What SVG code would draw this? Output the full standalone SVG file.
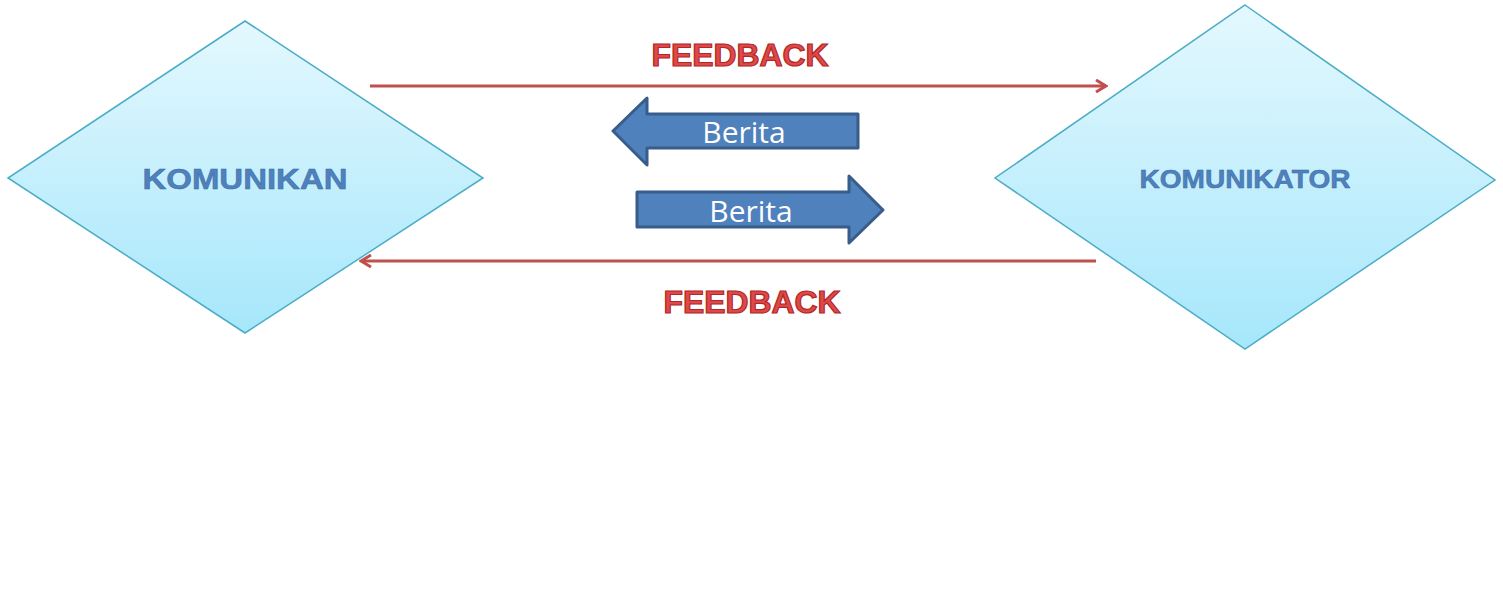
<svg xmlns="http://www.w3.org/2000/svg" width="1503" height="611" viewBox="0 0 1503 611">
<defs>
<linearGradient id="g" x1="0" y1="0" x2="0" y2="1"><stop offset="0" stop-color="#e4f8fe"/><stop offset="1" stop-color="#a6e7fb"/></linearGradient>
<marker id="ah" markerWidth="14" markerHeight="14" refX="12" refY="7" orient="auto" markerUnits="userSpaceOnUse"><path d="M2,1 L12,7 L2,13" fill="none" stroke="#c0504d" stroke-width="3"/></marker>
<style>
.d{fill:url(#g);stroke:#4bacc6;stroke-width:1.5}
.n{font-family:"Liberation Sans",Arial,sans-serif;font-weight:bold;fill:#4f81bd;stroke:#3a6aa5;stroke-width:0.5;text-anchor:middle}
.f{font-family:"Liberation Sans",Arial,sans-serif;font-weight:bold;font-size:31px;fill:#e04848;stroke:#b02828;stroke-width:1.2;text-anchor:middle}
.c{stroke:#c0504d;stroke-width:3;fill:none;marker-end:url(#ah)}
.b{fill:#4f81bd;stroke:#385d8a;stroke-width:3;stroke-linejoin:round}
.bt{font-family:"Open Sans","Liberation Sans",sans-serif;font-size:30px;fill:#fff;text-anchor:middle}
</style>
</defs>
<rect width="1503" height="611" fill="#fff"/>
<g id="komunikan"><polygon class="d" points="245,21 483,178 245,333 8,178"/><text class="n" x="245" y="189" font-size="29" textLength="205" lengthAdjust="spacingAndGlyphs">KOMUNIKAN</text></g>
<g id="komunikator"><polygon class="d" points="1245,5 1495,180 1245,349 995,178"/><text class="n" x="1245" y="188" font-size="26" textLength="211" lengthAdjust="spacingAndGlyphs">KOMUNIKATOR</text></g>
<g id="connectors">
<line class="c" x1="370" y1="86" x2="1106" y2="86"/>
<line class="c" x1="1096" y1="261" x2="361" y2="261"/>
</g>
<g id="feedback-top"><text class="f" x="740" y="66" textLength="177" lengthAdjust="spacingAndGlyphs">FEEDBACK</text></g>
<g id="feedback-bottom"><text class="f" x="752" y="313" textLength="177" lengthAdjust="spacingAndGlyphs">FEEDBACK</text></g>
<g id="berita-left"><polygon class="b" points="613,131 647,98 647,114 858,114 858,148 647,148 647,165"/><text class="bt" x="744" y="143">Berita</text></g>
<g id="berita-right"><polygon class="b" points="637,192 849,192 849,176 883,210 849,243 849,227 637,227"/><text class="bt" x="751" y="222">Berita</text></g>
</svg>
